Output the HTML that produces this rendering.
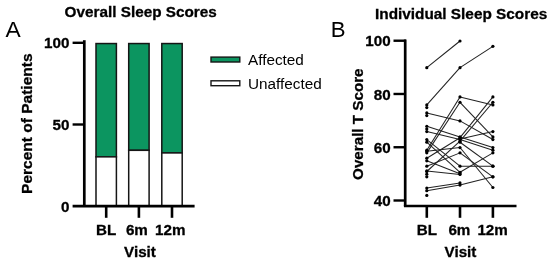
<!DOCTYPE html><html><head><meta charset="utf-8"><style>html,body{margin:0;padding:0;background:#fff;}svg{display:block}text{font-family:"Liberation Sans",Arial,sans-serif;fill:#000}text[font-weight=bold]{stroke:#000;stroke-width:0.3px}</style></head><body>
<svg width="550" height="264" viewBox="0 0 550 264">
<text x="5.6" y="37.1" font-size="22.8">A</text>
<text x="330.7" y="37.4" font-size="22.2">B</text>
<text x="64.6" y="17.3" font-size="15.3" font-weight="bold">Overall Sleep Scores</text>
<text x="375" y="18.9" font-size="15.35" font-weight="bold">Individual Sleep Scores</text>
<rect x="96.00" y="43.55" width="20.40" height="113.30" fill="#0c9560" stroke="#151515" stroke-width="1.5"/>
<rect x="96.00" y="156.85" width="20.40" height="49.35" fill="#fff" stroke="#151515" stroke-width="1.5"/>
<rect x="128.70" y="43.55" width="20.40" height="106.77" fill="#0c9560" stroke="#151515" stroke-width="1.5"/>
<rect x="128.70" y="150.32" width="20.40" height="55.88" fill="#fff" stroke="#151515" stroke-width="1.5"/>
<rect x="161.80" y="43.55" width="20.40" height="109.38" fill="#0c9560" stroke="#151515" stroke-width="1.5"/>
<rect x="161.80" y="152.93" width="20.40" height="53.27" fill="#fff" stroke="#151515" stroke-width="1.5"/>
<line x1="84.3" y1="40.2" x2="84.3" y2="206.20" stroke="#000" stroke-width="2.7"/>
<line x1="72.6" y1="206.20" x2="194.6" y2="206.20" stroke="#000" stroke-width="2.7"/>
<line x1="72.6" y1="42.80" x2="85" y2="42.80" stroke="#000" stroke-width="2.4"/>
<line x1="72.6" y1="124.50" x2="85" y2="124.50" stroke="#000" stroke-width="2.4"/>
<line x1="106.2" y1="206.20" x2="106.2" y2="217.8" stroke="#000" stroke-width="2.6"/>
<line x1="138.9" y1="206.20" x2="138.9" y2="217.8" stroke="#000" stroke-width="2.6"/>
<line x1="172.0" y1="206.20" x2="172.0" y2="217.8" stroke="#000" stroke-width="2.6"/>
<text x="69.4" y="48.40" font-size="15.2" font-weight="bold" text-anchor="end">100</text>
<text x="69.4" y="130.10" font-size="15.2" font-weight="bold" text-anchor="end">50</text>
<text x="69.4" y="211.80" font-size="15.2" font-weight="bold" text-anchor="end">0</text>
<text x="96.0" y="235.2" font-size="15.2" font-weight="bold">BL</text>
<text x="125.9" y="235.2" font-size="15.2" font-weight="bold">6m</text>
<text x="155.0" y="235.2" font-size="15.2" font-weight="bold">12m</text>
<text x="140" y="256.5" font-size="15.2" font-weight="bold" text-anchor="middle">Visit</text>
<text transform="translate(32.3,123.7) rotate(-90)" font-size="15.5" font-weight="bold" text-anchor="middle">Percent of Patients</text>
<rect x="211" y="57.1" width="28.8" height="4.9" fill="#0c9560" stroke="#151515" stroke-width="1.4"/>
<rect x="211" y="80.8" width="28.8" height="4.9" fill="#fff" stroke="#151515" stroke-width="1.4"/>
<text x="248" y="64.9" font-size="15.3">Affected</text>
<text x="248" y="88.6" font-size="15.3">Unaffected</text>
<line x1="405.2" y1="39.52" x2="405.2" y2="206" stroke="#000" stroke-width="2.7"/>
<line x1="403.9" y1="206" x2="516.5" y2="206" stroke="#000" stroke-width="2.7"/>
<line x1="393.5" y1="40.72" x2="406" y2="40.72" stroke="#000" stroke-width="2.4"/>
<text x="390.6" y="46.32" font-size="15.2" font-weight="bold" text-anchor="end">100</text>
<line x1="393.5" y1="93.98" x2="406" y2="93.98" stroke="#000" stroke-width="2.4"/>
<text x="390.6" y="99.58" font-size="15.2" font-weight="bold" text-anchor="end">80</text>
<line x1="393.5" y1="147.24" x2="406" y2="147.24" stroke="#000" stroke-width="2.4"/>
<text x="390.6" y="152.84" font-size="15.2" font-weight="bold" text-anchor="end">60</text>
<line x1="393.5" y1="200.50" x2="406" y2="200.50" stroke="#000" stroke-width="2.4"/>
<text x="390.6" y="206.10" font-size="15.2" font-weight="bold" text-anchor="end">40</text>
<line x1="426.8" y1="206" x2="426.8" y2="217.8" stroke="#000" stroke-width="2.6"/>
<line x1="460" y1="206" x2="460" y2="217.8" stroke="#000" stroke-width="2.6"/>
<line x1="492.9" y1="206" x2="492.9" y2="217.8" stroke="#000" stroke-width="2.6"/>
<text x="416.7" y="235.2" font-size="15.2" font-weight="bold">BL</text>
<text x="448.4" y="235.2" font-size="15.2" font-weight="bold">6m</text>
<text x="477.4" y="235.2" font-size="15.2" font-weight="bold">12m</text>
<text x="460.5" y="256.5" font-size="15.2" font-weight="bold" text-anchor="middle">Visit</text>
<text transform="translate(362.6,124.2) rotate(-90)" font-size="15.2" font-weight="bold" text-anchor="middle">Overall T Score</text>
<line x1="426.8" y1="67.65" x2="460" y2="41.02" stroke="#222" stroke-width="1.05"/>
<line x1="426.8" y1="104.93" x2="460" y2="67.65" stroke="#222" stroke-width="1.05"/>
<line x1="460" y1="67.65" x2="492.9" y2="46.35" stroke="#222" stroke-width="1.05"/>
<line x1="426.8" y1="112.92" x2="460" y2="120.91" stroke="#222" stroke-width="1.05"/>
<line x1="460" y1="120.91" x2="492.9" y2="139.55" stroke="#222" stroke-width="1.05"/>
<line x1="426.8" y1="126.24" x2="460" y2="136.89" stroke="#222" stroke-width="1.05"/>
<line x1="460" y1="136.89" x2="492.9" y2="147.54" stroke="#222" stroke-width="1.05"/>
<line x1="426.8" y1="131.56" x2="460" y2="139.55" stroke="#222" stroke-width="1.05"/>
<line x1="460" y1="139.55" x2="492.9" y2="150.20" stroke="#222" stroke-width="1.05"/>
<line x1="426.8" y1="139.55" x2="460" y2="166.18" stroke="#222" stroke-width="1.05"/>
<line x1="460" y1="166.18" x2="492.9" y2="166.18" stroke="#222" stroke-width="1.05"/>
<line x1="426.8" y1="142.21" x2="460" y2="172.31" stroke="#222" stroke-width="1.05"/>
<line x1="460" y1="172.31" x2="492.9" y2="152.87" stroke="#222" stroke-width="1.05"/>
<line x1="426.8" y1="150.20" x2="460" y2="96.94" stroke="#222" stroke-width="1.05"/>
<line x1="460" y1="96.94" x2="492.9" y2="104.93" stroke="#222" stroke-width="1.05"/>
<line x1="426.8" y1="152.87" x2="460" y2="102.27" stroke="#222" stroke-width="1.05"/>
<line x1="460" y1="102.27" x2="492.9" y2="136.89" stroke="#222" stroke-width="1.05"/>
<line x1="426.8" y1="151.27" x2="460" y2="147.54" stroke="#222" stroke-width="1.05"/>
<line x1="460" y1="147.54" x2="492.9" y2="187.49" stroke="#222" stroke-width="1.05"/>
<line x1="426.8" y1="158.19" x2="460" y2="137.69" stroke="#222" stroke-width="1.05"/>
<line x1="460" y1="137.69" x2="492.9" y2="96.94" stroke="#222" stroke-width="1.05"/>
<line x1="426.8" y1="160.86" x2="460" y2="173.64" stroke="#222" stroke-width="1.05"/>
<line x1="426.8" y1="166.18" x2="460" y2="152.87" stroke="#222" stroke-width="1.05"/>
<line x1="460" y1="152.87" x2="492.9" y2="176.83" stroke="#222" stroke-width="1.05"/>
<line x1="426.8" y1="171.51" x2="460" y2="141.15" stroke="#222" stroke-width="1.05"/>
<line x1="460" y1="141.15" x2="492.9" y2="102.27" stroke="#222" stroke-width="1.05"/>
<line x1="426.8" y1="170.97" x2="460" y2="174.44" stroke="#222" stroke-width="1.05"/>
<line x1="426.8" y1="188.02" x2="460" y2="182.96" stroke="#222" stroke-width="1.05"/>
<line x1="426.8" y1="190.68" x2="460" y2="185.09" stroke="#222" stroke-width="1.05"/>
<line x1="460" y1="185.09" x2="492.9" y2="176.83" stroke="#222" stroke-width="1.05"/>
<line x1="460" y1="139.02" x2="492.9" y2="131.56" stroke="#222" stroke-width="1.05"/>
<line x1="460" y1="142.21" x2="492.9" y2="166.18" stroke="#222" stroke-width="1.05"/>
<circle cx="426.8" cy="67.65" r="1.6" fill="#000"/>
<circle cx="460" cy="41.02" r="1.6" fill="#000"/>
<circle cx="426.8" cy="104.93" r="1.6" fill="#000"/>
<circle cx="460" cy="67.65" r="1.6" fill="#000"/>
<circle cx="492.9" cy="46.35" r="1.6" fill="#000"/>
<circle cx="426.8" cy="107.60" r="1.6" fill="#000"/>
<circle cx="426.8" cy="112.92" r="1.6" fill="#000"/>
<circle cx="460" cy="120.91" r="1.6" fill="#000"/>
<circle cx="492.9" cy="139.55" r="1.6" fill="#000"/>
<circle cx="426.8" cy="115.58" r="1.6" fill="#000"/>
<circle cx="426.8" cy="126.24" r="1.6" fill="#000"/>
<circle cx="460" cy="136.89" r="1.6" fill="#000"/>
<circle cx="492.9" cy="147.54" r="1.6" fill="#000"/>
<circle cx="426.8" cy="128.90" r="1.6" fill="#000"/>
<circle cx="426.8" cy="131.56" r="1.6" fill="#000"/>
<circle cx="460" cy="139.55" r="1.6" fill="#000"/>
<circle cx="492.9" cy="150.20" r="1.6" fill="#000"/>
<circle cx="426.8" cy="139.55" r="1.6" fill="#000"/>
<circle cx="460" cy="166.18" r="1.6" fill="#000"/>
<circle cx="492.9" cy="166.18" r="1.6" fill="#000"/>
<circle cx="426.8" cy="142.21" r="1.6" fill="#000"/>
<circle cx="460" cy="172.31" r="1.6" fill="#000"/>
<circle cx="492.9" cy="152.87" r="1.6" fill="#000"/>
<circle cx="426.8" cy="150.20" r="1.6" fill="#000"/>
<circle cx="460" cy="96.94" r="1.6" fill="#000"/>
<circle cx="492.9" cy="104.93" r="1.6" fill="#000"/>
<circle cx="426.8" cy="152.87" r="1.6" fill="#000"/>
<circle cx="460" cy="102.27" r="1.6" fill="#000"/>
<circle cx="492.9" cy="136.89" r="1.6" fill="#000"/>
<circle cx="426.8" cy="151.27" r="1.6" fill="#000"/>
<circle cx="460" cy="147.54" r="1.6" fill="#000"/>
<circle cx="492.9" cy="187.49" r="1.6" fill="#000"/>
<circle cx="426.8" cy="158.19" r="1.6" fill="#000"/>
<circle cx="460" cy="137.69" r="1.6" fill="#000"/>
<circle cx="492.9" cy="96.94" r="1.6" fill="#000"/>
<circle cx="426.8" cy="160.86" r="1.6" fill="#000"/>
<circle cx="460" cy="173.64" r="1.6" fill="#000"/>
<circle cx="426.8" cy="166.18" r="1.6" fill="#000"/>
<circle cx="460" cy="152.87" r="1.6" fill="#000"/>
<circle cx="492.9" cy="176.83" r="1.6" fill="#000"/>
<circle cx="426.8" cy="171.51" r="1.6" fill="#000"/>
<circle cx="460" cy="141.15" r="1.6" fill="#000"/>
<circle cx="492.9" cy="102.27" r="1.6" fill="#000"/>
<circle cx="426.8" cy="170.97" r="1.6" fill="#000"/>
<circle cx="460" cy="174.44" r="1.6" fill="#000"/>
<circle cx="426.8" cy="174.17" r="1.6" fill="#000"/>
<circle cx="426.8" cy="176.83" r="1.6" fill="#000"/>
<circle cx="426.8" cy="188.02" r="1.6" fill="#000"/>
<circle cx="460" cy="182.96" r="1.6" fill="#000"/>
<circle cx="426.8" cy="190.68" r="1.6" fill="#000"/>
<circle cx="460" cy="185.09" r="1.6" fill="#000"/>
<circle cx="492.9" cy="176.83" r="1.6" fill="#000"/>
<circle cx="426.8" cy="195.47" r="1.6" fill="#000"/>
<circle cx="460" cy="139.02" r="1.6" fill="#000"/>
<circle cx="492.9" cy="131.56" r="1.6" fill="#000"/>
<circle cx="460" cy="142.21" r="1.6" fill="#000"/>
<circle cx="492.9" cy="166.18" r="1.6" fill="#000"/>
</svg></body></html>
